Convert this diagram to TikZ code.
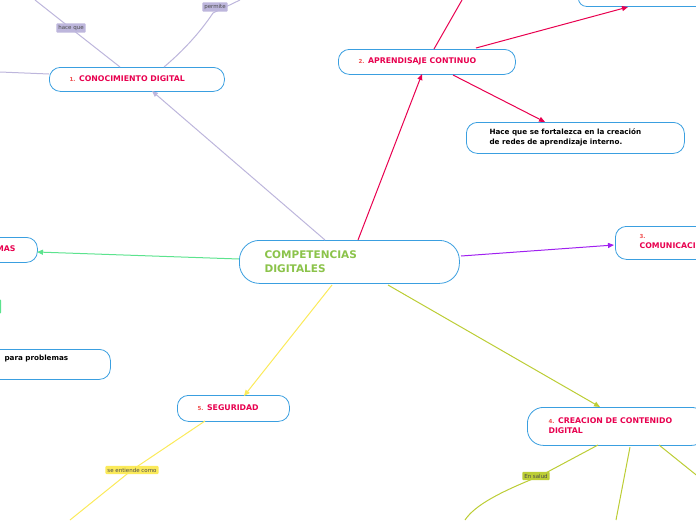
\documentclass[tikz,border=0pt]{standalone}
\usepackage{fontspec}
\setmainfont{DejaVu Sans}
\usetikzlibrary{arrows.meta}
\definecolor{bd}{HTML}{3A9FE0}
\definecolor{crim}{HTML}{E8004F}
\definecolor{lav}{HTML}{BDB6DC}
\definecolor{grn}{HTML}{5CE38E}
\definecolor{yel}{HTML}{FBEA5A}
\definecolor{ygr}{HTML}{BCCD35}
\definecolor{cgr}{HTML}{8BC34A}
\definecolor{pur}{HTML}{A020F0}
\definecolor{num}{HTML}{F04E4E}
\tikzset{
 box/.style={draw=bd,line width=0.8pt,rounded corners=11pt,fill=white,inner sep=0pt,anchor=north west},
 ttl/.style={font=\fontsize{7.8}{10}\selectfont\bfseries,text=crim,align=left},
 body/.style={font=\fontsize{7.2}{9.5}\selectfont\bfseries,align=left},
 lbl/.style={font=\fontsize{5.5}{6}\selectfont,text=black!70,inner sep=2pt,rounded corners=1pt},
 arr/.style={-{Triangle[length=6pt,width=5pt]},line width=1pt},
 ln/.style={line width=1pt}
}
\newcommand{\nm}[1]{{\fontsize{5.5}{6}\selectfont\color{num}#1}}
\begin{document}
\begin{tikzpicture}[x=1pt,y=-1pt]
\useasboundingbox (0,0) rectangle (696,520);
\coordinate (hqend) at (35,0);
\coordinate (pend) at (240,0);
\coordinate (conl) at (0,72);
\coordinate (aup) at (462,0);
\coordinate (segend) at (70,520);
\coordinate (saludend) at (465,520);
\coordinate (c2end) at (616,520);
\coordinate (c3end) at (700,478);
\node[box,minimum width=220pt,minimum height=43pt,rounded corners=20pt] (cen) at (239,240) {};
\node[anchor=west,font=\fontsize{10.5}{14}\selectfont\bfseries,text=cgr,align=left] at (261,262) {COMPETENCIAS\\DIGITALES};
\node[box,minimum width=175pt,minimum height=24pt] (con) at (49,67) {};
\node[ttl,anchor=west] at (66,79) {\nm{1.} CONOCIMIENTO DIGITAL};
\node[box,minimum width=177pt,minimum height=25pt] (apr) at (338,49) {};
\node[ttl,anchor=west] at (355,61.5) {\nm{2.} APRENDISAJE CONTINUO};
\node[box,minimum width=218pt,minimum height=31pt] (hace) at (466,122) {};
\node[body,anchor=west] at (486,137.5) {Hace que se fortalezca en la creación\\de redes de aprendizaje interno.};
\node[box,minimum width=100pt,minimum height=33pt] (com) at (615,226) {};
\node[ttl,anchor=west] at (636,242) {\nm{3.}\\COMUNICACIÓN};
\node[box,minimum width=180pt,minimum height=38pt,rounded corners=16pt] (crea) at (527,407) {};
\node[ttl,anchor=west] at (545,426) {\nm{4.} CREACION DE CONTENIDO\\DIGITAL};
\node[box,minimum width=112pt,minimum height=26pt] (seg) at (177,395) {};
\node[ttl,anchor=west] at (194,408) {\nm{5.} SEGURIDAD};
\node[box,minimum width=50pt,minimum height=25pt] (mas) at (-13,237) {};
\node[ttl,anchor=east] at (19,249) {MAS};
\node[box,minimum width=125pt,minimum height=30pt] (para) at (-15,349) {};
\node[body,anchor=west] at (1,359) {para problemas};
\node[box,minimum width=130pt,minimum height=18pt,rounded corners=8pt] (tr) at (578,-12) {};
\node[draw=grn,line width=1pt,anchor=north east,minimum width=4pt,minimum height=14pt,inner sep=0pt,rounded corners=1pt] (gb) at (1,299) {};
\draw[arr,lav] (325,240) -- (152,91);
\draw[arr,crim] (358,240) -- (422,74);
\draw[ln,crim] (434,49) -- (aup);
\draw[arr,crim] (476,48) -- (628,7);
\draw[arr,crim] (453,75) -- (545,122);
\draw[arr,pur] (461,256) -- (614,245);
\draw[arr,grn] (239,259) -- (37,252);
\draw[arr,yel] (332,285) -- (244,396);
\draw[arr,ygr] (388,285) -- (600,407);
\draw[ln,lav] (120,67) -- (78,34) -- (hqend);
\draw[ln,lav] (164,67) .. controls (190,45) and (205,25) .. (213,13) -- (pend);
\draw[ln,lav] (49,74) -- (conl);
\draw[ln,yel] (205,421) -- (132,470) -- (segend);
\draw[ln,ygr] (598,445) -- (540,476) .. controls (500,492) and (475,505) .. (saludend);
\draw[ln,ygr] (630,447) -- (c2end);
\draw[ln,ygr] (659,445) -- (c3end);
\node[lbl,fill=lav] (hq) at (71,28) {hace que};
\node[lbl,fill=lav] (pm) at (215,7) {permite};
\node[lbl,fill=yel] (sec) at (132,470) {se entiende como};
\node[lbl,fill=ygr] (sal) at (536,476) {En salud};
\end{tikzpicture}
\end{document}
